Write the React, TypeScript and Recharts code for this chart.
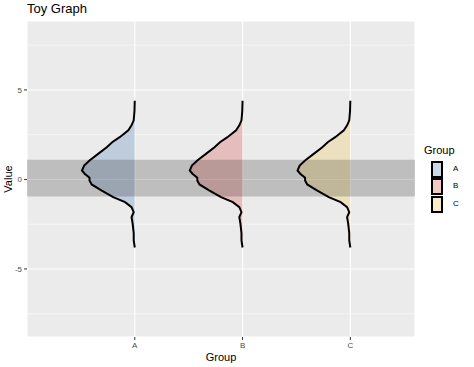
import React from "react"
import {
  ComposedChart,
  Area,
  Line,
  XAxis,
  YAxis,
  CartesianGrid,
  ReferenceArea,
} from "recharts"

// group labels and their positions on the x axis
const groups = ["A", "B", "C"]
const groupPos = [1, 2, 3]
const groupFill = ["#7d9dc3", "#de7878", "#f0cf7a"]

// half-violin outline: value -> half width (x units), same shape for every group
const values = [4.4, 3.8, 3.3, 3.02, 2.74, 2.36, 2.08, 1.8, 1.43, 1.06, 0.78, 0.5, 0.32, 0.09, -0.06, -0.28, -0.61, -0.99, -1.27, -1.55, -1.83, -2.1, -2.47, -3.0, -3.4, -3.8]
const widths = [0, 0.003, 0.01, 0.03, 0.06, 0.14, 0.21, 0.26, 0.34, 0.42, 0.47, 0.49, 0.465, 0.42, 0.42, 0.4, 0.31, 0.2, 0.09, 0.03, 0.01, 0.03, 0.02, 0.01, 0.01, 0]

// shaded band
const bandLow = -0.95
const bandHigh = 1.1

const yTicks = [-5, 0, 5]
const yMinor = [-7.5, -2.5, 2.5, 7.5]

const data = values.map((v, i) => {
  const row: Record<string, number | number[]> = { v }
  groups.forEach((g, j) => {
    row[`fill${g}`] = [groupPos[j] - widths[i], groupPos[j]]
    row[`edge${g}`] = groupPos[j] - widths[i]
  })
  return row
})

const font = "'Liberation Sans', Arial, sans-serif"

export default function App() {
  return (
    <div style={{ position: "absolute", left: 0, top: 0, width: 474, height: 367, background: "#fff", fontFamily: font }}>
      <div style={{ position: "absolute", left: 27, top: 1, fontSize: 13, color: "#000" }}>Toy Graph</div>

      <ComposedChart
        width={474}
        height={367}
        layout="vertical"
        data={data}
        margin={{ top: 21, right: 59, bottom: 0, left: 0 }}
      >
        <CartesianGrid fill="#ebebeb" stroke="#fff" strokeWidth={0.5} horizontalValues={yMinor} vertical={false} />
        <CartesianGrid stroke="#fff" strokeWidth={1.1} fillOpacity={0} />
        <XAxis
          type="number"
          dataKey={undefined}
          domain={[0, 3.6]}
          ticks={groupPos}
          tickFormatter={(t: number) => groups[groupPos.indexOf(t)] ?? ""}
          axisLine={false}
          tickLine={{ stroke: "#333" }}
          tickSize={3}
          tick={{ fontSize: 8, fill: "#4d4d4d", fontFamily: font }}
          height={30}
          label={{ value: "Group", position: "insideBottom", offset: 6, fontSize: 11, fill: "#000", fontFamily: font }}
        />
        <YAxis
          type="number"
          dataKey="v"
          domain={[-8.8, 8.85]}
          reversed
          ticks={yTicks}
          axisLine={false}
          tickLine={{ stroke: "#333" }}
          tickSize={3}
          tick={{ fontSize: 8, fill: "#4d4d4d", fontFamily: font }}
          width={27}
          label={{ value: "Value", angle: -90, position: "insideLeft", offset: 8, fontSize: 11, fill: "#000", fontFamily: font, style: { textAnchor: "middle" } }}
        />
        {groups.map((g, j) => (
          <Area
            key={`a${g}`}
            dataKey={`fill${g}`}
            type="linear"
            stroke="none"
            fill={groupFill[j]}
            fillOpacity={0.4}
            isAnimationActive={false}
            activeDot={false}
          />
        ))}
        <ReferenceArea y1={bandLow} y2={bandHigh} fill="#000" fillOpacity={0.19} stroke="none" />
        {groups.map((g) => (
          <Line
            key={`l${g}`}
            dataKey={`edge${g}`}
            type="linear"
            stroke="#000"
            strokeWidth={2}
            dot={false}
            activeDot={false}
            isAnimationActive={false}
          />
        ))}
      </ComposedChart>

      <div style={{ position: "absolute", left: 424, top: 144, fontSize: 11, color: "#000" }}>Group</div>
      {groups.map((g, j) => (
        <div key={g}>
          <div
            style={{
              position: "absolute",
              left: 431,
              top: 161 + j * 17.3,
              width: 8,
              height: 13,
              border: "2px solid #000",
              background: "#fff",
            }}
          >
            <div style={{ width: "100%", height: "100%", background: groupFill[j], opacity: 0.4 }} />
          </div>
          <div style={{ position: "absolute", left: 453, top: 164 + j * 17.3, fontSize: 8, color: "#000" }}>{g}</div>
        </div>
      ))}
    </div>
  )
}
